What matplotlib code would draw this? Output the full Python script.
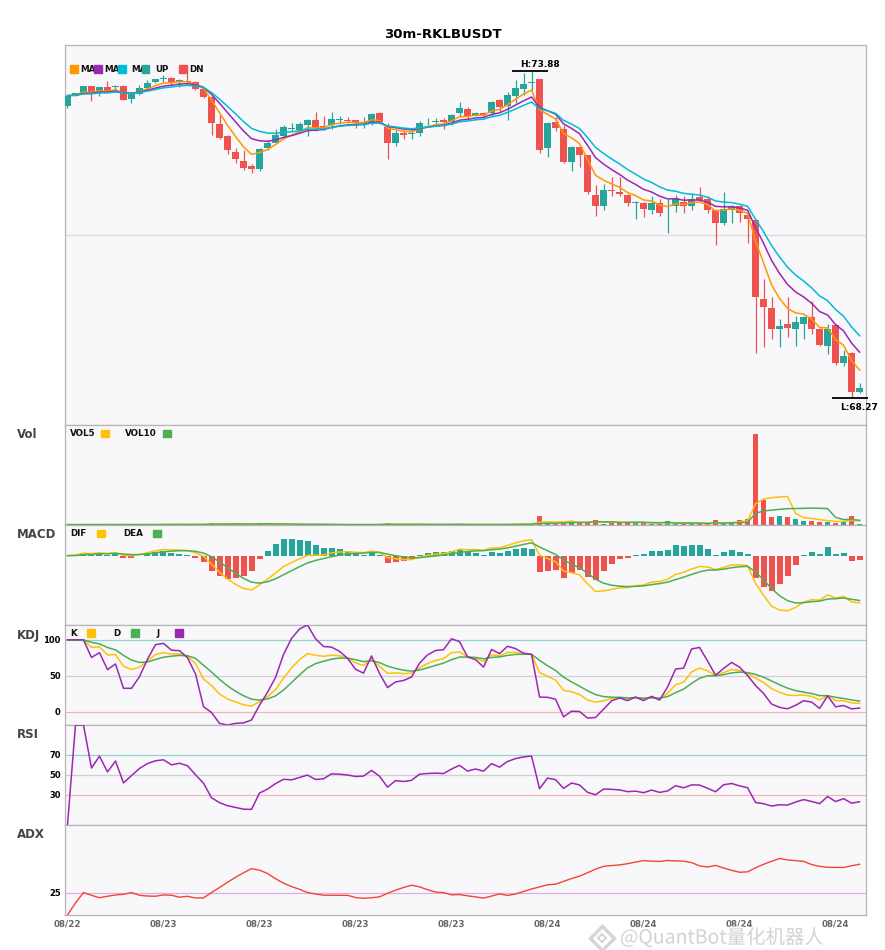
import numpy as np
import pandas as pd
import matplotlib
matplotlib.use('Agg')
import matplotlib.pyplot as plt
from matplotlib.patches import Rectangle
from matplotlib.lines import Line2D
import matplotlib.patheffects as pe

# 30m candles, 08/22 18:00 -> 08/24 17:30
opens = [73.29, 73.46, 73.51, 73.62, 73.51, 73.60, 73.61, 73.62, 73.41, 73.49,
         73.59, 73.70, 73.75, 73.76, 73.70, 73.71, 73.70, 73.58, 73.44, 72.97,
         72.76, 72.49, 72.34, 72.25, 72.20, 72.56, 72.65, 72.76, 72.89, 72.87,
         72.95, 73.04, 72.93, 72.95, 73.04, 73.04, 73.04, 72.99, 73.01, 73.17,
         72.92, 72.64, 72.82, 72.80, 72.82, 73.00, 73.01, 73.04, 73.01, 73.16,
         73.23, 73.12, 73.17, 73.17, 73.38, 73.29, 73.46, 73.58, 73.67, 73.74,
         72.56, 73.00, 72.89, 72.32, 72.58, 72.44, 71.75, 71.57, 71.84, 71.81,
         71.76, 71.62, 71.62, 71.49, 71.62, 71.49, 71.57, 71.64, 71.56, 71.72,
         71.68, 71.50, 71.28, 71.50, 71.57, 71.41, 71.33, 69.98, 69.81, 69.46,
         69.54, 69.46, 69.54, 69.67, 69.46, 69.17, 69.52, 68.87, 69.05, 68.38]
highs = [73.46, 73.50, 73.62, 73.63, 73.61, 73.71, 73.65, 73.64, 73.52, 73.64,
         73.73, 73.75, 73.82, 73.78, 73.75, 73.86, 73.71, 73.59, 73.45, 73.13,
         72.78, 72.57, 72.52, 72.29, 72.56, 72.70, 72.89, 72.95, 72.99, 73.01,
         73.06, 73.18, 73.11, 73.18, 73.11, 73.10, 73.05, 73.10, 73.16, 73.18,
         72.99, 72.87, 72.87, 72.87, 73.02, 73.08, 73.07, 73.07, 73.14, 73.35,
         73.27, 73.18, 73.18, 73.36, 73.40, 73.52, 73.73, 73.85, 73.88, 73.75,
         73.00, 73.10, 72.95, 72.59, 72.59, 72.45, 71.92, 71.95, 72.07, 72.06,
         71.77, 71.65, 71.63, 71.73, 71.68, 71.68, 71.75, 71.73, 71.79, 71.89,
         71.73, 71.51, 71.81, 71.58, 71.58, 71.42, 71.34, 70.32, 70.01, 69.62,
         70.01, 69.68, 69.68, 69.93, 69.47, 69.55, 69.55, 69.09, 69.06, 68.53]
lows = [73.25, 73.45, 73.50, 73.36, 73.46, 73.50, 73.57, 73.38, 73.33, 73.47,
        73.56, 73.67, 73.70, 73.66, 73.61, 73.64, 73.56, 73.42, 72.79, 72.72,
        72.46, 72.30, 72.19, 72.13, 72.16, 72.52, 72.64, 72.71, 72.85, 72.84,
        72.76, 72.86, 72.87, 72.88, 72.97, 72.99, 72.91, 72.90, 72.95, 72.99,
        72.38, 72.60, 72.72, 72.72, 72.77, 72.95, 72.96, 72.88, 72.95, 73.11,
        73.04, 73.11, 73.10, 73.10, 73.18, 73.04, 73.34, 73.47, 73.56, 72.48,
        72.41, 72.86, 72.30, 72.17, 72.24, 71.77, 71.39, 71.50, 71.73, 71.73,
        71.56, 71.35, 71.37, 71.43, 71.39, 71.11, 71.47, 71.44, 71.50, 71.64,
        71.44, 70.90, 71.24, 71.27, 71.30, 70.94, 69.04, 69.15, 69.29, 69.14,
        69.32, 69.17, 69.28, 69.37, 69.17, 69.02, 68.84, 68.82, 68.27, 68.36]
closes = [73.46, 73.50, 73.62, 73.51, 73.60, 73.51, 73.62, 73.39, 73.48, 73.59,
          73.68, 73.74, 73.76, 73.70, 73.73, 73.70, 73.58, 73.43, 72.99, 72.73,
          72.52, 72.38, 72.22, 72.20, 72.54, 72.64, 72.79, 72.92, 72.90, 72.97,
          73.04, 72.90, 72.92, 73.06, 73.05, 73.03, 72.99, 73.00, 73.14, 73.00,
          72.65, 72.82, 72.79, 72.82, 72.99, 73.01, 73.02, 73.01, 73.13, 73.24,
          73.11, 73.17, 73.12, 73.35, 73.27, 73.47, 73.59, 73.66, 73.70, 72.53,
          72.99, 72.90, 72.32, 72.58, 72.44, 71.81, 71.56, 71.84, 71.82, 71.77,
          71.62, 71.64, 71.52, 71.62, 71.45, 71.50, 71.70, 71.57, 71.68, 71.67,
          71.49, 71.27, 71.52, 71.57, 71.44, 71.34, 70.01, 69.84, 69.46, 69.51,
          69.47, 69.58, 69.67, 69.46, 69.19, 69.46, 68.87, 68.99, 68.38, 68.44]
volumes = [40, 30, 50, 40, 30, 60, 30, 50, 30, 40,
           50, 40, 130, 40, 50, 30, 60, 100, 230, 120,
           90, 110, 80, 60, 230, 70, 50, 40, 30, 40,
           50, 60, 40, 30, 30, 40, 30, 40, 50, 60,
           230, 60, 40, 30, 70, 30, 20, 40, 50, 130,
           40, 30, 30, 60, 50, 80, 130, 130, 90, 930,
           230, 100, 230, 430, 230, 230, 530, 130, 230, 230,
           230, 330, 170, 70, 130, 430, 130, 130, 100, 130,
           130, 530, 200, 200, 530, 630, 9030, 2530, 830, 930,
           830, 630, 430, 430, 330, 330, 230, 430, 930, 130]

tick_idx = [0, 12, 24, 36, 48, 60, 72, 84, 96]
tick_labels = ['08/22', '08/23', '08/23', '08/23', '08/23', '08/24', '08/24', '08/24', '08/24']

UP, DN = '#26a69a', '#ef5350'
C_MA1, C_MA2, C_MA3 = '#ff9800', '#9c27b0', '#00bcd4'
YEL, GRN, PUR = '#ffc107', '#4caf50', '#9c27b0'
BG = '#f8f8fb'
W, H = 885, 950

df = pd.DataFrame({'open': opens, 'high': highs, 'low': lows,
                   'close': closes, 'vol': volumes})
n = len(df)
x = np.arange(n)
up = df.close >= df.open

def ema(s, span):
    return s.ewm(span=span, adjust=False).mean()

# ---- indicators
ma1 = ema(df.close, 5)
ma2 = ema(df.close, 9)
ma3 = ema(df.close, 13)
vol5 = df.vol.rolling(5, min_periods=1).mean()
vol10 = df.vol.rolling(10, min_periods=1).mean()

dif = ema(df.close, 6) - ema(df.close, 13)
dea = ema(dif, 5)
hist = 2 * (dif - dea)

low9 = df.low.rolling(9, min_periods=1).min()
high9 = df.high.rolling(9, min_periods=1).max()
rsv = (df.close - low9) / (high9 - low9) * 100
k = rsv.ewm(com=2, adjust=False).mean()
d = k.ewm(com=2, adjust=False).mean()
j = 3 * k - 2 * d

delta = df.close.diff().fillna(0)
gain = delta.clip(lower=0).ewm(alpha=1/14, adjust=False).mean()
loss = (-delta.clip(upper=0)).ewm(alpha=1/14, adjust=False).mean()
rsi = (100 * gain / (gain + loss)).fillna(0)

pc = df.close.shift()
tr = pd.concat([df.high - df.low, (df.high - pc).abs(), (df.low - pc).abs()], axis=1).max(axis=1)
upm = df.high.diff()
dnm = -df.low.diff()
pdm = pd.Series(np.where((upm > dnm) & (upm > 0), upm, 0.0))
mdm = pd.Series(np.where((dnm > upm) & (dnm > 0), dnm, 0.0))
atr = ema(tr, 14)
pdi = 100 * ema(pdm, 14) / atr
mdi = 100 * ema(mdm, 14) / atr
dx = (100 * (pdi - mdi).abs() / (pdi + mdi)).fillna(0)
adx = ema(dx, 14)

# ---- layout (pixel based)
fig = plt.figure(figsize=(W / 100, H / 100), dpi=100)
fig.patch.set_facecolor('white')
L, R = 65, 866
def make_ax(top, bot):
    ax = fig.add_axes([L / W, 1 - bot / H, (R - L) / W, (bot - top) / H])
    ax.set_facecolor(BG)
    for s in ax.spines.values():
        s.set_color('#b5b5b5')
        s.set_linewidth(0.9)
    ax.set_xlim(-0.31, n - 0.2)
    ax.tick_params(axis='both', length=0, labelsize=6, pad=3)
    ax.set_xticks([])
    ax.set_yticks([])
    return ax

ax_k = make_ax(45, 425)
ax_v = make_ax(425, 525)
ax_m = make_ax(525, 625)
ax_j = make_ax(625, 725)
ax_r = make_ax(725, 825)
ax_a = make_ax(825, 915)

# ---- candles
colors = np.where(up, UP, DN)
ax_k.vlines(x, df.low, df.high, color=colors, lw=0.9, zorder=2)
body = np.maximum((df.close - df.open).abs(), 0.012)
ax_k.bar(x, body, 0.85, bottom=np.minimum(df.open, df.close), color=colors, zorder=3)
ax_k.plot(x, ma1, color=C_MA1, lw=1.1, zorder=4)
ax_k.plot(x, ma2, color=C_MA2, lw=1.1, zorder=4)
ax_k.plot(x, ma3, color=C_MA3, lw=1.1, zorder=4)
lo, hi = df.low.min(), df.high.max()
rng = hi - lo
y0, y1 = lo - 0.082 * rng, hi + 0.08 * rng
ax_k.set_ylim(y0, y1)
ax_k.axhline((y0 + y1) / 2, color='#dcdcdc', lw=0.9, zorder=1)

ih, il = int(df.high.idxmax()), int(df.low.idxmin())
ax_k.hlines(hi, ih - 2.4, ih + 2.0, color='black', lw=1.3, zorder=5, clip_on=False)
ax_k.annotate('H:%.2f' % hi, (ih - 1.4, hi), xytext=(0, 5), textcoords='offset points',
              ha='left', va='center', fontsize=6.5, fontweight='bold')
ax_k.hlines(lo, il - 2.4, il + 2.0, color='black', lw=1.3, zorder=5, clip_on=False)
ax_k.annotate('L:%.2f' % lo, (il - 1.4, lo), xytext=(0, -6.5), textcoords='offset points',
              ha='left', va='center', fontsize=6.5, fontweight='bold', annotation_clip=False)

# ---- volume
ax_v.bar(x, df.vol, 0.7, color=colors, zorder=2)
ax_v.plot(x, vol5, color=YEL, lw=1.1, zorder=3)
ax_v.plot(x, vol10, color=GRN, lw=1.1, zorder=3)
ax_v.set_ylim(0, df.vol.max() * 1.1)

# ---- MACD
ax_m.bar(x, hist, 0.75, color=np.where(hist >= 0, UP, DN), zorder=2)
ax_m.plot(x, dif, color=YEL, lw=1.1, zorder=3)
ax_m.plot(x, dea, color=GRN, lw=1.1, zorder=3)
mv = pd.concat([dif, dea, hist])
mr = mv.max() - mv.min()
ax_m.set_ylim(mv.min() - 0.2 * mr, mv.max() + 0.2 * mr)

# ---- KDJ
for lvl, c in [(100, '#8fd3cc'), (50, '#d0d0d0'), (0, '#f5b5b5')]:
    ax_j.axhline(lvl, color=c, lw=0.9, zorder=1)
ax_j.plot(x, k, color=YEL, lw=1.1, zorder=3)
ax_j.plot(x, d, color=GRN, lw=1.1, zorder=3)
ax_j.plot(x, j, color=PUR, lw=1.1, zorder=3)
ax_j.set_ylim(min(j.min(), 0), max(j.max(), 100))
ax_j.set_yticks([0, 50, 100])

# ---- RSI
for lvl, c in [(70, '#8fd3cc'), (50, '#d0d0d0'), (30, '#f5b5b5')]:
    ax_r.axhline(lvl, color=c, lw=0.9, zorder=1)
ax_r.plot(x, rsi, color=PUR, lw=1.1, zorder=3)
ax_r.set_ylim(0, 100)
ax_r.set_yticks([30, 50, 70])

# ---- ADX
ax_a.axhline(25, color='#dcaee3', lw=0.9, zorder=1)
ax_a.plot(x, adx, color='#f44336', lw=1.0, zorder=3)
ax_a.set_ylim(0, 100)
ax_a.set_yticks([25])
ax_a.set_xticks(tick_idx)
ax_a.set_xticklabels(tick_labels, fontsize=6.3, fontweight='bold', color='#666666')
ax_a.tick_params(axis='x', pad=3)

for ax in (ax_j, ax_r, ax_a):
    for t in ax.get_yticklabels():
        t.set_fontweight('bold')

# ---- texts / legends (figure pixel coords)
def ftext(px, py, s, **kw):
    return fig.text(px / W, 1 - py / H, s, va='center', **kw)

def square(px, py, c, size=7.5):
    fig.add_artist(Rectangle((px / W, 1 - (py + size) / H), size / W, size / H,
                             transform=fig.transFigure, color=c, zorder=10))

ftext(W / 2, 34, '30m-RKLBUSDT', ha='center', fontsize=9.5, fontweight='bold')
for lab, py in [('Vol', 435), ('MACD', 535), ('KDJ', 635), ('RSI', 735), ('ADX', 835)]:
    ftext(17, py, lab, ha='left', fontsize=8.5, fontweight='bold', color='#444444')

lk = dict(ha='left', fontsize=6.3, fontweight='bold', color='#111111', zorder=5)
for sx, tx, c, lab in [(70, 80.5, C_MA1, 'MA'), (94, 104.5, C_MA2, 'MA'), (118, 131.5, C_MA3, 'MA'),
                       (141.5, 155, UP, 'UP'), (179, 189.5, DN, 'DN')]:
    square(sx, 65, c)
    ftext(tx, 69, lab, **lk)
for tx, lab, sx, c in [(70, 'VOL5', 101, YEL), (125, 'VOL10', 163, GRN)]:
    ftext(tx, 433.5, lab, **lk)
    square(sx, 429.5, c)
for tx, lab, sx, c in [(70, 'DIF', 97, YEL), (123, 'DEA', 153, GRN)]:
    ftext(tx, 534, lab, **lk)
    square(sx, 529.5, c)
for tx, lab, sx, c in [(70, 'K', 87, YEL), (113, 'D', 131, GRN), (156.5, 'J', 175, PUR)]:
    ftext(tx, 633, lab, **lk)
    square(sx, 629, c)

# watermark (kept just under the date labels)
wy = 938
fig.add_artist(Line2D([602 / W], [1 - wy / H], marker='D', markersize=12, mfc='none',
                      mec='#d6d6d6', mew=2.5, transform=fig.transFigure))
fig.add_artist(Line2D([602 / W], [1 - wy / H], marker='D', markersize=4.5, mfc='none',
                      mec='#d6d6d6', mew=1.5, transform=fig.transFigure))
ftext(620, wy, '@QuantBot量化机器人', ha='left', fontsize=14, color='#d2d2d2',
      family=['Noto Sans CJK SC', 'DejaVu Sans'],
      path_effects=[pe.withStroke(linewidth=2, foreground='white')])

fig.savefig('out.png', dpi=100)
